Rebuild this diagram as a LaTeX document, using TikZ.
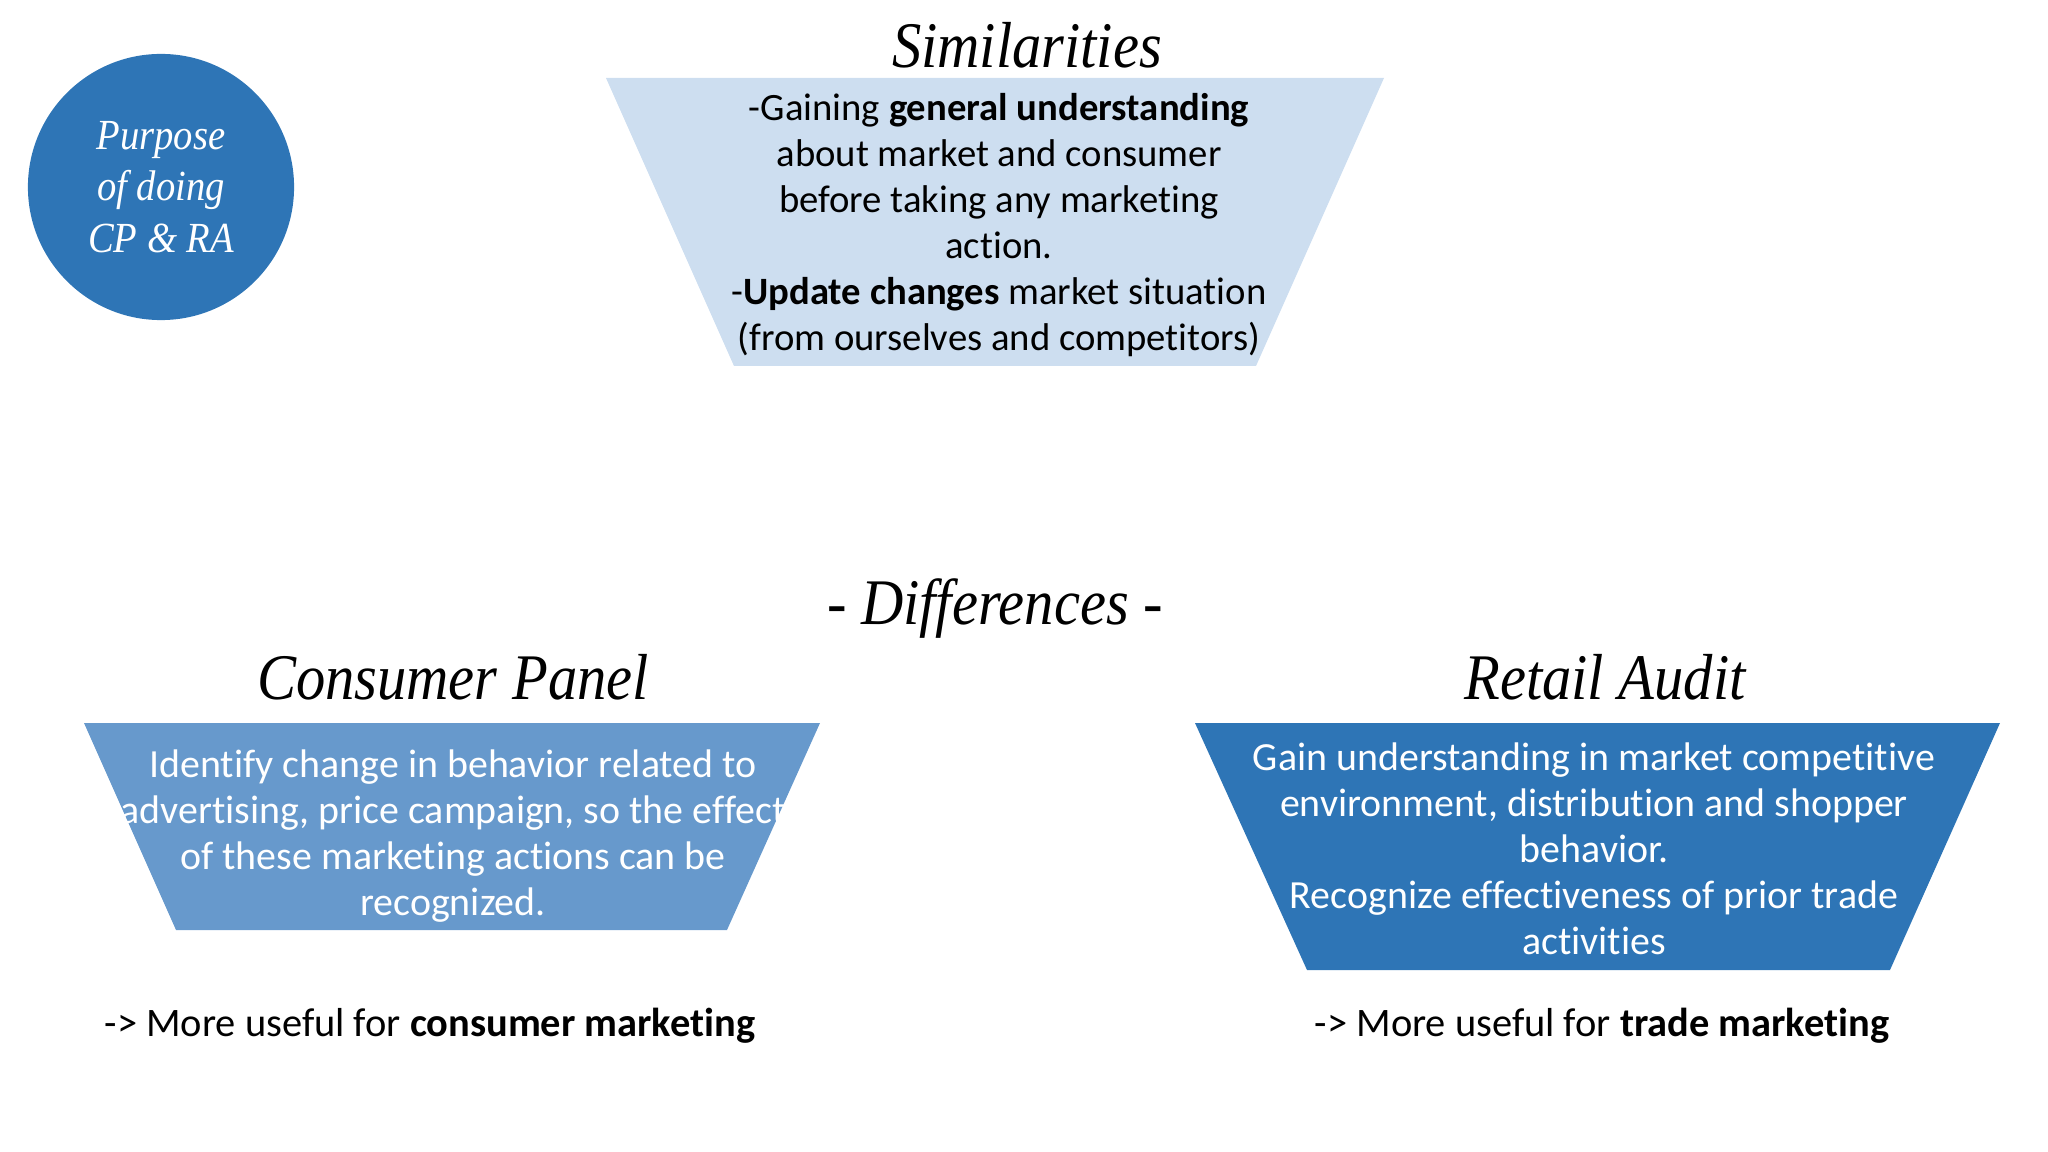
\documentclass[tikz,border=0pt]{standalone}
\usepackage{fontspec}
\setmainfont[Ligatures=NoCommon]{Carlito}
\newfontfamily\headfont[FakeStretch=0.9]{Liberation Serif}
\usepackage{xcolor}
\usetikzlibrary{positioning}
\definecolor{deepblue}{RGB}{46,117,182}
\definecolor{midblue}{RGB}{103,153,204}
\definecolor{paleblue}{RGB}{205,222,240}
\tikzset{
  head/.style    ={font=\headfont\itshape\fontsize{18.5}{22}\selectfont, inner sep=0pt, anchor=base},
  body/.style    ={align=center, font=\fontsize{11.35}{13.1}\selectfont, inner sep=0pt},
  note/.style    ={font=\fontsize{11.5}{13.1}\selectfont, inner sep=0pt, anchor=base},
  badge/.style   ={circle, fill=deepblue, minimum size=2.66cm, inner sep=0pt, align=center, text=white,
                   font=\headfont\itshape\fontsize{12.2}{14.6}\selectfont},
}

\begin{document}
\begin{tikzpicture}[x=0.01cm, y=-0.01cm]
  \useasboundingbox (0,0) rectangle (2048,1152);

  % Purpose badge, top left
  \node[badge] (purpose) at (161,187) {Purpose\\of doing\\CP \& RA};

  % Similarities funnel
  \node[head] (simtitle) at (1027,68) {Similarities};
  \fill[paleblue] (606,78) -- (1384,78) -- (1256,366) -- (734,366) -- cycle;
  \node[body, font=\fontsize{11}{13.1}\selectfont] (simtext) at (999,225) {-Gaining \textbf{general understanding}\\about market and consumer\\before taking any marketing\\action.\\-\textbf{Update changes} market situation\\(from ourselves and competitors)};

  % Differences: two funnels side by side
  \node[head] (difftitle) at (995,624) {- Differences -};
  \node[head] (cptitle) at (453,699) {Consumer Panel};
  \node[head] (ratitle) at (1605,699) {Retail Audit};

  \fill[midblue]  (84,723)   -- (820,723)  -- (727,930)  -- (176,930)  -- cycle;
  \fill[deepblue] (1195,723) -- (2000,723) -- (1890,970) -- (1307,970) -- cycle;

  \node[body, text=white] (cptext) at (453,836) {Identify change in behavior related to\\advertising, price campaign, so the effect\\of these marketing actions can be\\recognized.};
  \node[body, text=white] (ratext) at (1594,849) {Gain understanding in market competitive\\environment, distribution and shopper\\behavior.\\Recognize effectiveness of prior trade\\activities};

  % Conclusions under each funnel
  \node[note] (cpuse) at (430,1036) {-> More useful for \textbf{consumer marketing}};
  \node[note] (rause) at (1602,1036) {-> More useful for \textbf{trade marketing}};
\end{tikzpicture}
\end{document}
